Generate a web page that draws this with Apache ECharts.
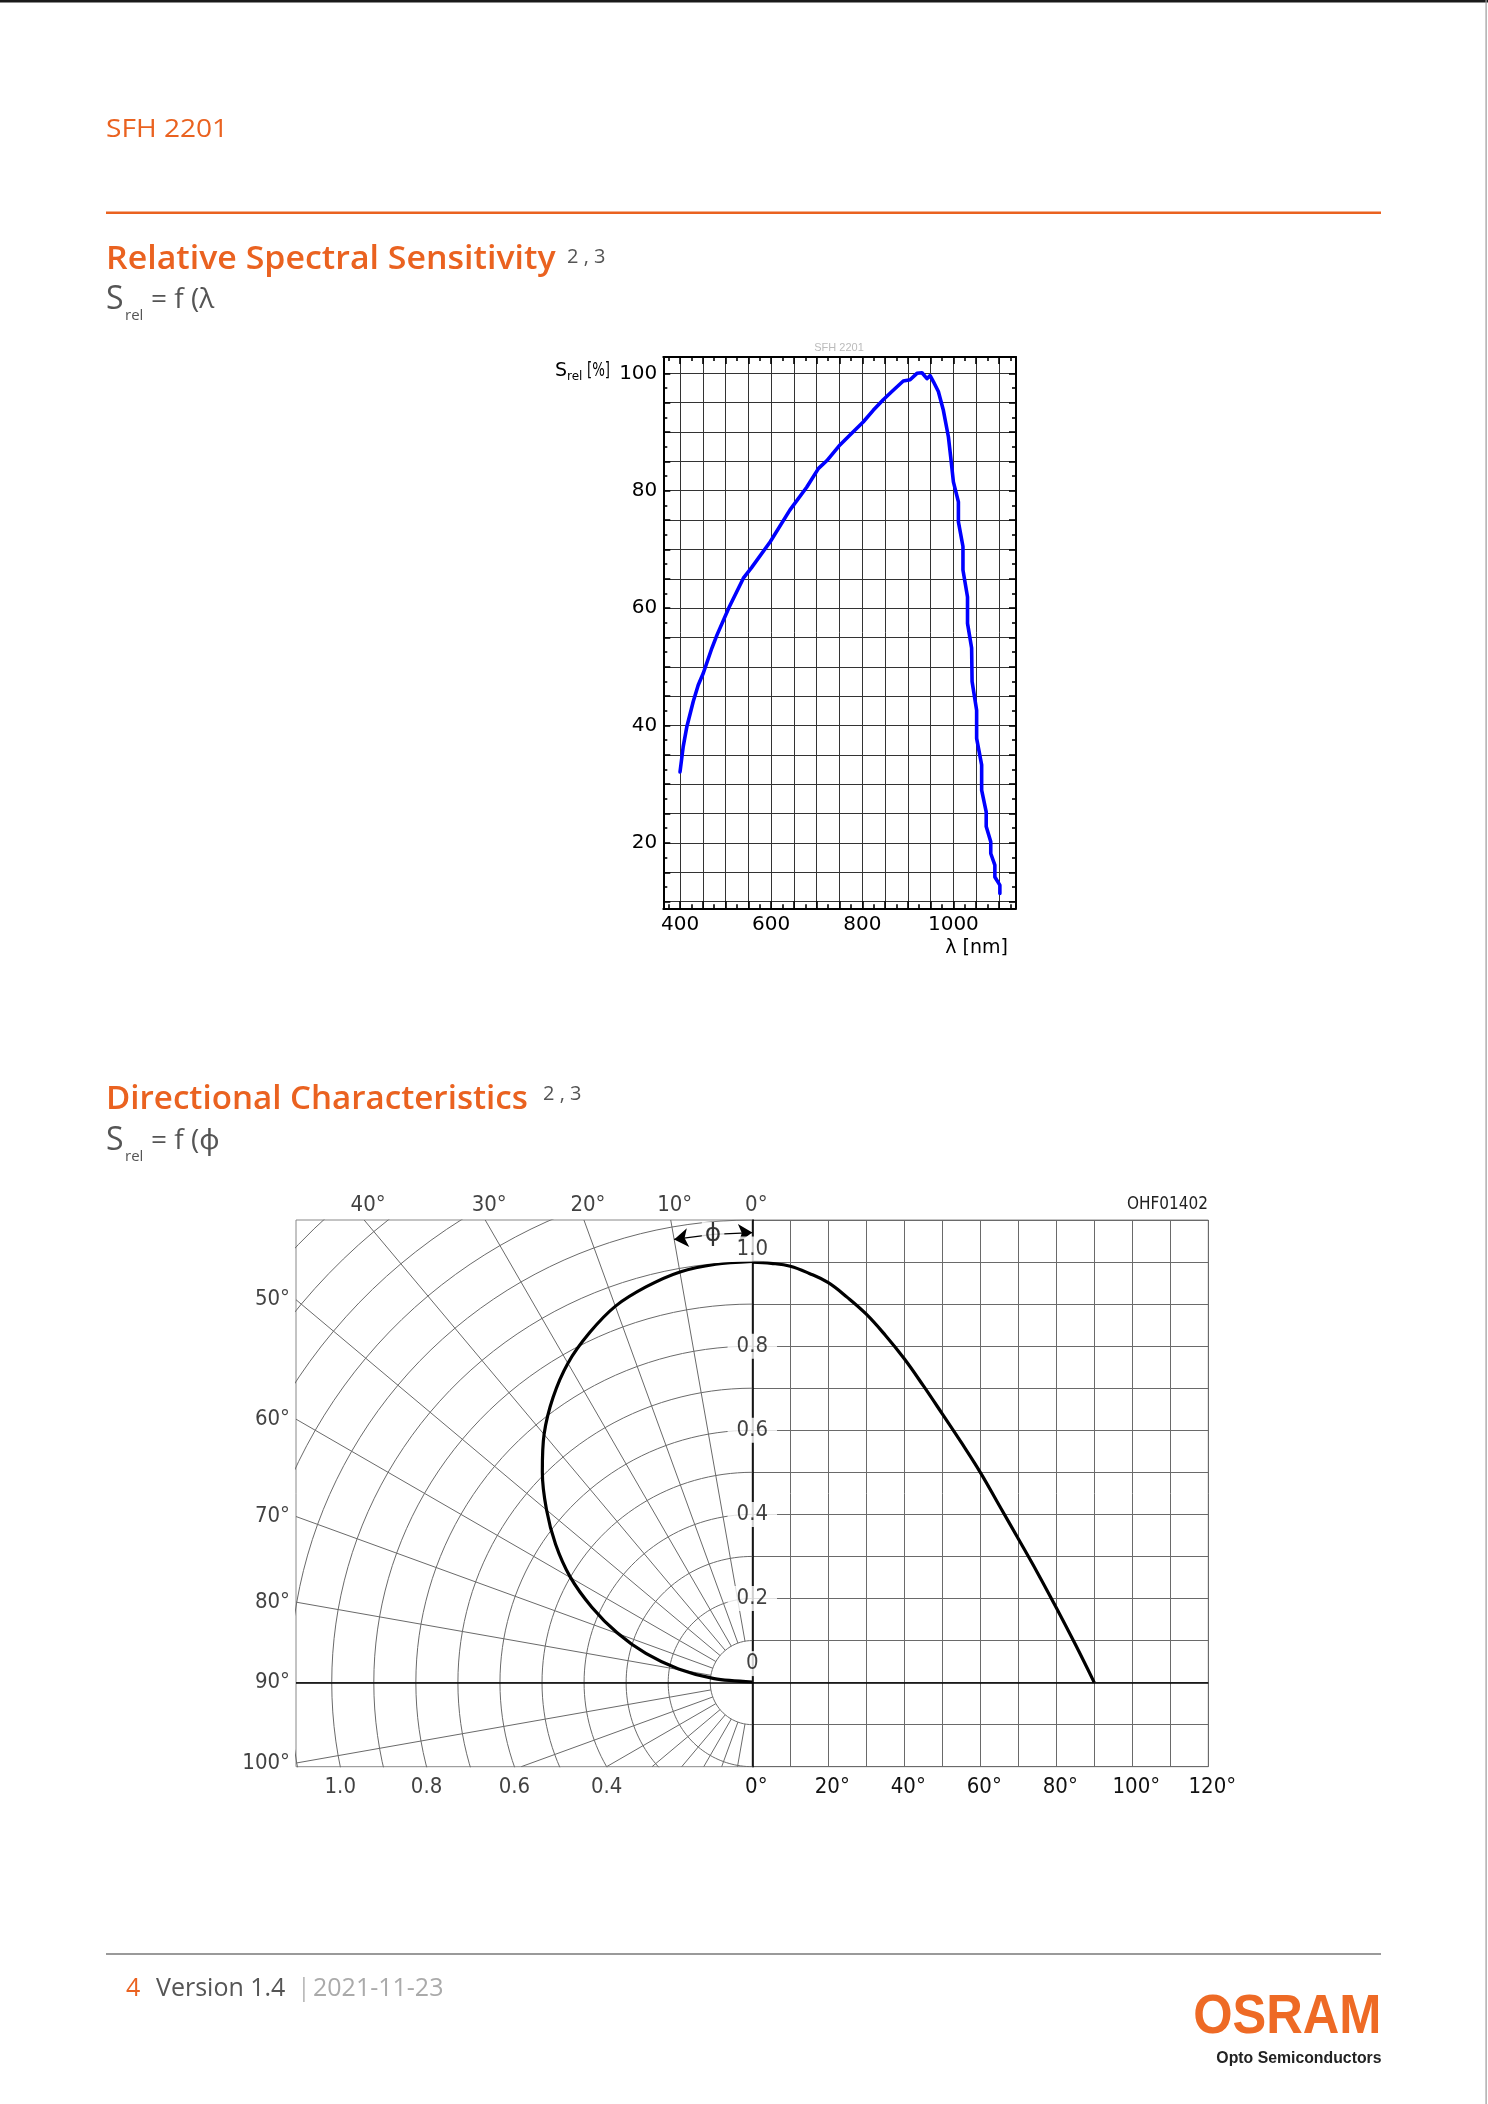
<!DOCTYPE html>
<html>
<head>
<meta charset="utf-8">
<title>SFH 2201</title>
<script src="https://cdn.jsdelivr.net/npm/echarts@6/dist/echarts.min.js"></script>
<style>
html, body { margin: 0; padding: 0; background: #fff; }
#page { width: 1488px; height: 2104px; }
</style>
</head>
<body>
<div id="page"></div>
<script>
// relative spectral sensitivity
var wavelength = [400, 407, 415, 429, 440, 451, 470, 481, 508, 539, 557, 598, 641, 678, 704, 722, 751, 773, 802, 824,
  846, 865, 890, 905, 920, 931, 942, 949, 956, 967, 978, 989, 994, 1000, 1011, 1011, 1021, 1021, 1031, 1031,
  1040, 1041, 1051, 1051, 1062, 1062, 1072, 1072, 1082, 1082, 1091, 1091, 1102, 1102];
var sensitivity = [32.1, 36.4, 39.8, 44.1, 46.9, 48.9, 53.2, 55.4, 60.2, 65.1, 66.9, 71.3, 76.7, 80.6, 83.8, 85.1, 87.8, 89.5, 91.7, 93.7,
  95.5, 96.9, 98.7, 98.9, 100.0, 100.1, 99.1, 99.6, 98.6, 96.9, 93.7, 89.2, 85.8, 81.5, 78.1, 74.7, 70.5, 66.5, 61.9, 57.4,
  53.2, 47.5, 42.6, 37.8, 33.3, 29.0, 25.3, 22.8, 20.2, 18.2, 16.2, 14.2, 12.8, 11.4];
var lambdaMajor = [400, 450, 500, 550, 600, 650, 700, 750, 800, 850, 900, 950, 1000, 1050, 1100];
var lambdaMinor = [375, 425, 475, 525, 575, 625, 675, 725, 775, 825, 875, 925, 975, 1025, 1075, 1125];
var lambdaLabels = [400, 600, 800, 1000];
var srelMajor = [10, 15, 20, 25, 30, 35, 40, 45, 50, 55, 60, 65, 70, 75, 80, 85, 90, 95, 100];
var srelMinor = [12.5, 17.5, 22.5, 27.5, 32.5, 37.5, 42.5, 47.5, 52.5, 57.5, 62.5, 67.5, 72.5, 77.5, 82.5, 87.5, 92.5, 97.5];
var srelLabels = [20, 40, 60, 80, 100];

// directional characteristics
var phiDeg = [0, 5, 10, 15, 20, 25, 30, 35, 40, 45, 50, 55, 60, 65, 70, 75, 80, 85, 90];
var srelPhi = [1.000, 0.997, 0.990, 0.973, 0.951, 0.916, 0.876, 0.826, 0.770, 0.706, 0.639, 0.571, 0.500, 0.421, 0.342, 0.262, 0.178, 0.091, 0.000];
var ringRadii = [0.1, 0.2, 0.3, 0.4, 0.5, 0.6, 0.7, 0.8, 0.9, 1.0, 1.1, 1.2, 1.3, 1.4, 1.5];
var spokeDeg = [10, 20, 30, 40, 50, 60, 70, 80, 90, 100, 110, 120, 130, 140, 150, 160, 170];
var frameAngleLabels = [0, 10, 20, 30, 40, 50, 60, 70, 80, 90, 100];
var radialLabels = [1.0, 0.8, 0.6, 0.4, 0.2, 0];
var bottomRingLabels = [1.0, 0.8, 0.6, 0.4];
var phiAxisLabels = [0, 20, 40, 60, 80, 100, 120];

var ORANGE = '#ea6220';
var SANS = '"Open Sans", "Noto Sans", sans-serif';
var DEJAVU = '"DejaVu Sans", sans-serif';
var NARROW = '"Liberation Sans Narrow", "DejaVu Sans Condensed", "Roboto Condensed", sans-serif';
var LINE_GRAY = '#6a6a6a';

// frame of the directional diagram, in data units (1.0 = 420.6 px)
var DIR = { xMin: -1.085, yMin: -0.2, yMax: 1.1 };

function rad(d) { return d * Math.PI / 180; }
// angle measured from the vertical, opening to the left
function polarXY(r, deg) { return [-r * Math.sin(rad(deg)), r * Math.cos(rad(deg))]; }
// where a spoke leaves the frame
function edgeDist(deg) {
  var s = Math.sin(rad(deg)), c = Math.cos(rad(deg)), r = Infinity;
  if (c > 1e-9) r = Math.min(r, DIR.yMax / c);
  if (c < -1e-9) r = Math.min(r, DIR.yMin / c);
  if (s > 1e-9) r = Math.min(r, -DIR.xMin / s);
  return r;
}

function txt(s, x, y, o) {
  return {
    type: 'text', x: x, y: y, silent: true, scaleX: o.scaleX || 1, z: 100,
    style: {
      text: s, fill: o.fill || '#000',
      fontSize: o.size, fontWeight: o.weight || 'normal', fontFamily: o.family || SANS,
      align: o.align || 'left', textAlign: o.align || 'left',
      verticalAlign: 'middle', textVerticalAlign: 'middle'
    }
  };
}

var chart = echarts.init(document.getElementById('page'), null, { renderer: 'canvas' });

var specAxisX = { gridIndex: 0, type: 'value', min: 363.3, max: 1137.4 };
var specAxisY = { gridIndex: 0, type: 'value', min: 8.86, max: 102.78 };
function specAxis(base, pos, ticks, len, main) {
  return Object.assign({}, base, {
    position: pos,
    axisLine: { show: main, onZero: false, lineStyle: { color: '#000', width: 2 } },
    axisTick: { show: true, inside: true, length: len, customValues: ticks, lineStyle: { color: '#000', width: 1.6 } },
    axisLabel: { show: false },
    splitLine: { show: false }
  });
}
function plain(v) { return String(v); }

var xAxes = [
  specAxis(specAxisX, 'bottom', lambdaMajor, 7, true),
  specAxis(specAxisX, 'top', lambdaMajor, 7, true),
  specAxis(specAxisX, 'bottom', lambdaMinor, 4, false),
  specAxis(specAxisX, 'top', lambdaMinor, 4, false),
  { gridIndex: 1, type: 'value', min: DIR.xMin, max: 0, show: false },
  {
    gridIndex: 2, type: 'value', min: 0, max: 120, interval: 10, position: 'bottom',
    axisLine: { show: false, onZero: false }, axisTick: { show: false },
    axisLabel: {
      customValues: phiAxisLabels, formatter: function (v) { return v + '°'; },
      margin: 10, fontSize: 22, fontFamily: NARROW, color: '#111', padding: [0, 0, 0, 8]
    },
    splitLine: { show: true, lineStyle: { color: LINE_GRAY, width: 1 } }
  }
];
xAxes[0].axisLabel = { show: true, customValues: lambdaLabels, formatter: plain, margin: 6, fontSize: 20, fontFamily: DEJAVU, color: '#000' };
xAxes[0].splitLine = { show: true, lineStyle: { color: '#333', width: 1 } };

var yAxes = [
  specAxis(specAxisY, 'left', srelMajor, 7, true),
  specAxis(specAxisY, 'right', srelMajor, 7, true),
  specAxis(specAxisY, 'left', srelMinor, 4, false),
  specAxis(specAxisY, 'right', srelMinor, 4, false),
  { gridIndex: 1, type: 'value', min: DIR.yMin, max: DIR.yMax, show: false },
  {
    gridIndex: 2, type: 'value', min: -0.2, max: 1.1, interval: 0.1, position: 'left',
    axisLine: { show: true, onZero: false, lineStyle: { color: '#000', width: 1.6 } },
    axisTick: { show: false }, axisLabel: { show: false },
    splitLine: { show: true, lineStyle: { color: LINE_GRAY, width: 1 } }
  }
];
yAxes[0].axisLabel = { show: true, customValues: srelLabels, formatter: plain, margin: 6, fontSize: 20, fontFamily: DEJAVU, color: '#000' };
yAxes[0].splitLine = { show: true, lineStyle: { color: '#333', width: 1 } };

var series = [];

// spectral curve
series.push({
  type: 'line', xAxisIndex: 0, yAxisIndex: 0, z: 5,
  data: wavelength.map(function (w, i) { return [w, sensitivity[i]]; }),
  showSymbol: false, symbol: 'none', silent: true,
  lineStyle: { color: '#0000ff', width: 3.6, join: 'round', cap: 'round' }
});

// polar rings and spokes of the left half
ringRadii.forEach(function (r, k) {
  var pts = [];
  for (var a = 0; a <= 180; a += 2) pts.push(polarXY(r, a));
  var s = {
    type: 'line', xAxisIndex: 4, yAxisIndex: 4, data: pts, z: 1,
    showSymbol: false, symbol: 'none', silent: true,
    lineStyle: { color: LINE_GRAY, width: 1 }
  };
  if (k === 0) {
    s.markLine = {
      silent: true, symbol: 'none', label: { show: false },
      lineStyle: { color: '#000', width: 1.6, type: 'solid' },
      data: [{ yAxis: 0 }]
    };
  }
  series.push(s);
});
spokeDeg.forEach(function (d) {
  series.push({
    type: 'line', xAxisIndex: 4, yAxisIndex: 4, z: 1,
    data: [polarXY(0.1, d), polarXY(edgeDist(d), d)],
    showSymbol: false, symbol: 'none', silent: true,
    lineStyle: { color: LINE_GRAY, width: 1 }
  });
});

// directional curve, polar half
series.push({
  type: 'line', coordinateSystem: 'polar', polarIndex: 0, z: 6,
  data: phiDeg.map(function (p, i) { return [srelPhi[i], p]; }),
  smooth: 0.3, showSymbol: false, symbol: 'none', silent: true,
  lineStyle: { color: '#000', width: 3.2 }
});

// directional curve, cartesian half
series.push({
  type: 'line', xAxisIndex: 5, yAxisIndex: 5, z: 6,
  data: phiDeg.map(function (p, i) { return [p, srelPhi[i]]; }),
  smooth: 0.4, showSymbol: false, symbol: 'none', silent: true,
  lineStyle: { color: '#000', width: 3.2 },
  markLine: {
    silent: true, symbol: 'none', label: { show: false },
    lineStyle: { color: '#000', width: 1.6, type: 'solid' },
    data: [{ yAxis: 0 }]
  }
});

// radial values on the 0° axis
series.push({
  type: 'scatter', xAxisIndex: 5, yAxisIndex: 5, z: 8, clip: false, silent: true,
  symbolSize: 0,
  data: radialLabels.map(function (v) {
    var off = v === 1 ? [0, -13] : (v === 0 ? [0, -19] : [0, 0]);
    return { value: [0, v], label: { offset: off } };
  }),
  label: {
    show: true, position: 'inside', fontSize: 22, fontFamily: NARROW, color: '#111',
    backgroundColor: '#fff', padding: [2, 9, 1, 9],
    formatter: function (p) { return p.value[1] === 0 ? '0' : p.value[1].toFixed(1); }
  }
});

// angle labels round the frame
series.push({
  type: 'scatter', xAxisIndex: 4, yAxisIndex: 4, z: 8, clip: false, silent: true,
  symbolSize: 0,
  data: frameAngleLabels.map(function (d) {
    var p = polarXY(edgeDist(d), d);
    var onTop = Math.abs(p[1] - DIR.yMax) < 1e-6;
    return {
      value: p, name: d + '°',
      label: onTop ? { position: 'top', distance: 4, offset: [4, 0] } : { position: 'left', distance: 6 }
    };
  }),
  label: { show: true, fontSize: 22, fontFamily: NARROW, color: '#111', formatter: '{b}' }
});

// ring values along the bottom edge
series.push({
  type: 'scatter', xAxisIndex: 4, yAxisIndex: 4, z: 8, clip: false, silent: true,
  symbolSize: 0,
  data: bottomRingLabels.map(function (r) {
    return { value: [-Math.sqrt(r * r - DIR.yMin * DIR.yMin), DIR.yMin], name: r.toFixed(1) };
  }),
  label: { show: true, position: 'bottom', distance: 10, fontSize: 22, fontFamily: NARROW, color: '#111', formatter: '{b}' }
});

// phi arrow between the 10° spoke and the 0° axis
var arrowMid = polarXY(1.07, 5);
series.push({
  type: 'lines', coordinateSystem: 'cartesian2d', xAxisIndex: 4, yAxisIndex: 4, z: 7,
  silent: true,
  symbol: ['none', 'arrow'], symbolSize: [10, 14],
  lineStyle: { color: '#000', width: 1.2, opacity: 1, curveness: 0 },
  itemStyle: { color: '#000' },
  data: [
    { coords: [arrowMid, polarXY(1.07, 10)] },
    { coords: [arrowMid, polarXY(1.07, 0)] }
  ]
});
series.push({
  type: 'scatter', xAxisIndex: 4, yAxisIndex: 4, z: 9, clip: false, silent: true,
  symbolSize: 0,
  data: [{ value: arrowMid, name: 'ϕ' }],
  label: { show: true, position: 'inside', fontSize: 25, fontFamily: DEJAVU, color: '#000',
    backgroundColor: '#fff', padding: [0, 3], formatter: '{b}' }
});

var option = {
  animation: false,
  backgroundColor: '#fff',
  grid: [
    { left: 663.3, top: 357, width: 352.7, height: 551.3, show: false, containLabel: false, outerBoundsMode: 'none' },
    { left: 296, top: 1220, width: 456.3, height: 546.7, show: true, borderColor: '#888', borderWidth: 1, backgroundColor: 'transparent', containLabel: false, outerBoundsMode: 'none' },
    { left: 752.3, top: 1220, width: 456, height: 546.7, show: true, borderColor: '#888', borderWidth: 1, backgroundColor: 'transparent', containLabel: false, outerBoundsMode: 'none' }
  ],
  polar: { center: [752.3, 1682], radius: 420.6 },
  radiusAxis: { polarIndex: 0, type: 'value', min: 0, max: 1, show: false },
  angleAxis: { polarIndex: 0, type: 'value', min: 0, max: 360, startAngle: 90, clockwise: false, show: false },
  xAxis: xAxes,
  yAxis: yAxes,
  series: series,
  graphic: [
    { type: 'rect', silent: true, shape: { x: 0, y: 0, width: 1488, height: 2.5 }, style: { fill: '#1a1a1a' } },
    { type: 'rect', silent: true, shape: { x: 1485.5, y: 0, width: 1.2, height: 2104 }, style: { fill: '#9a9a9a' } },
    txt('SFH 2201', 106, 130, { size: 26, fill: ORANGE, scaleX: 1.08 }),
    { type: 'rect', silent: true, shape: { x: 106, y: 211.5, width: 1275, height: 2.5 }, style: { fill: ORANGE } },

    txt('Relative Spectral Sensitivity', 106, 260, { size: 32, weight: 600, fill: ORANGE, scaleX: 1.06 }),
    txt('2 , 3', 567, 257, { size: 20, fill: '#555' }),
    txt('S', 106, 300, { size: 32, fill: '#555' }),
    txt('rel', 125, 316, { size: 15, fill: '#555' }),
    txt('= f (λ', 151, 300, { size: 28, fill: '#555' }),

    txt('SFH 2201', 839, 348, { size: 11, fill: '#bbb', align: 'center', family: '"Liberation Sans", sans-serif' }),
    txt('S', 555, 371, { size: 19, family: DEJAVU }),
    txt('rel', 567, 377, { size: 12, family: DEJAVU }),
    txt('[%]', 587, 371, { size: 19, family: DEJAVU, scaleX: 0.7 }),
    txt('λ [nm]', 1008, 948, { size: 19, family: DEJAVU, align: 'right' }),

    txt('Directional Characteristics', 106, 1100, { size: 32, weight: 600, fill: ORANGE, scaleX: 1.035 }),
    txt('2 , 3', 543, 1094, { size: 20, fill: '#555' }),
    txt('S', 106, 1141, { size: 32, fill: '#555' }),
    txt('rel', 125, 1157, { size: 15, fill: '#555' }),
    txt('= f (ϕ', 151, 1141, { size: 28, fill: '#555' }),
    txt('OHF01402', 1208, 1205, { size: 17, family: NARROW, align: 'right', fill: '#222' }),

    { type: 'rect', silent: true, shape: { x: 106, y: 1953, width: 1275, height: 2 }, style: { fill: '#9a9a9a' } },
    txt('4', 126, 1989, { size: 25, fill: ORANGE }),
    txt('Version 1.4', 156, 1989, { size: 25, fill: '#555' }),
    txt('|', 297, 1989, { size: 25, fill: '#bbb' }),
    txt('2021-11-23', 313, 1989, { size: 25, fill: '#aaa' }),
    txt('OSRAM', 1381.5, 2018, { size: 55, weight: 'bold', family: '"Liberation Sans", Arial, sans-serif', fill: '#ee6a25', align: 'right', scaleX: 0.92 }),
    txt('Opto Semiconductors', 1381.5, 2058, { size: 17, weight: 'bold', family: '"Liberation Sans", Arial, sans-serif', fill: '#222', align: 'right', scaleX: 0.93 })
  ]
};

chart.setOption(option);
</script>
</body>
</html>
